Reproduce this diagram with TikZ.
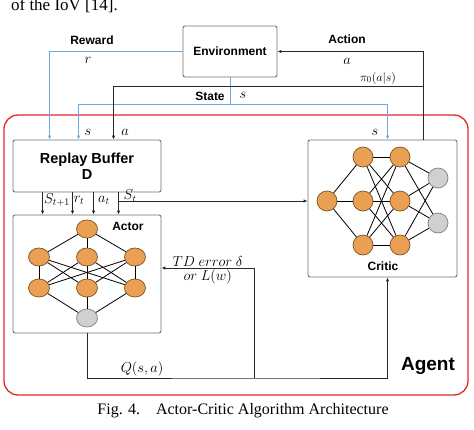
\documentclass[tikz,border=0pt]{standalone}
\usepackage{fontspec}
\setmainfont{Liberation Serif}
\setsansfont{Liberation Sans}
\usetikzlibrary{arrows.meta, shapes.geometric}

\definecolor{flowblue}{RGB}{111,168,220}
\definecolor{agentred}{RGB}{228,38,38}
\definecolor{neuron}{RGB}{234,160,82}
\definecolor{neuronrim}{RGB}{125,82,40}
\definecolor{outneuron}{RGB}{208,208,208}
\definecolor{boxgray}{RGB}{112,112,112}
\definecolor{wire}{RGB}{40,40,40}

\tikzset{
  box/.style={draw=boxgray, line width=0.9pt, rounded corners=2pt, fill=white},
  tag/.style={font=\sffamily\bfseries\fontsize{12}{14}\selectfont, inner sep=1pt},
  sym/.style={font=\fontsize{15}{17}\selectfont, inner sep=1pt},
  unit/.style={ellipse, draw=neuronrim, fill=neuron, line width=0.7pt, minimum width=21pt, minimum height=18pt, inner sep=0pt},
  outunit/.style={unit, draw=gray, fill=outneuron},
  cunit/.style={unit, circle, minimum size=20pt},
  coutunit/.style={outunit, circle, minimum size=20pt},
  link/.style={draw=black, line width=0.8pt},
  wireflow/.style={draw=wire, line width=0.9pt, -{Latex[length=4pt, width=3.5pt]}},
  blueflow/.style={draw=flowblue, line width=0.9pt, -{Latex[length=4pt, width=3.5pt]}},
}

\begin{document}
\begin{tikzpicture}[x = 1pt, y = -1pt]
  \clip (0, 0) rectangle (474, 429);
  \useasboundingbox (0, 0) rectangle (474, 429);

  % Page text
  \node[anchor=base east, font=\fontsize{17}{20}\selectfont, inner sep=0pt] (pagetext) at (118, 10) {of the IoV [14].};
  \node[font=\fontsize{16}{19}\selectfont] (caption) at (243, 411) {Fig. 4.\quad Actor-Critic Algorithm Architecture};

  % Agent frame
  \node[draw=agentred, line width=1.3pt, rounded corners=14pt, minimum width=464pt, minimum height=280pt] (agent) at (236, 255) {};
  \node[font=\sffamily\bfseries\fontsize{19}{22}\selectfont] (agenttag) at (428, 366) {Agent};

  % Boxes
  \node[box, minimum width=94pt, minimum height=51pt, font=\sffamily\bfseries\fontsize{12}{14}\selectfont] (env) at (230, 51.5) {Environment};
  \node[box, minimum width=148pt, minimum height=52pt, align=center, font=\sffamily\bfseries\fontsize{14.5}{16}\selectfont] (buffer) at (87, 166) {Replay Buffer\\D};
  \node[box, minimum width=148pt, minimum height=118pt] (actor) at (87, 274) {};
  \node[box, minimum width=149pt, minimum height=137pt] (critic) at (382.5, 208.5) {};
  \node[tag] (actortag) at (128, 226) {Actor};
  \node[tag] (critictag) at (383, 266) {Critic};

  % Actor network
  \node[unit] (a0) at (87, 229) {};
  \node[unit] (a11) at (39, 257) {};
  \node[unit] (a12) at (87, 257) {};
  \node[unit] (a13) at (135, 257) {};
  \node[unit] (a21) at (39, 288) {};
  \node[unit] (a22) at (87, 288) {};
  \node[unit] (a23) at (135, 288) {};
  \node[outunit] (a3) at (87, 318) {};
  \foreach \i in {1,2,3} {
    \draw[link] (a0) -- (a1\i);
    \draw[link] (a2\i) -- (a3);
    \foreach \j in {1,2,3}
      \draw[link] (a1\i) -- (a2\j);
  }

  % Critic network
  \node[cunit] (c0) at (327, 201) {};
  \node[cunit] (c11) at (363, 157) {};
  \node[cunit] (c12) at (363, 201) {};
  \node[cunit] (c13) at (363, 245) {};
  \node[cunit] (c21) at (400, 157) {};
  \node[cunit] (c22) at (400, 201) {};
  \node[cunit] (c23) at (400, 245) {};
  \node[coutunit] (c31) at (438, 178) {};
  \node[coutunit] (c32) at (438, 223) {};
  \foreach \i in {1,2,3} {
    \draw[link] (c0) -- (c1\i);
    \draw[link] (c2\i) -- (c31);
    \draw[link] (c2\i) -- (c32);
    \foreach \j in {1,2,3}
      \draw[link] (c1\i) -- (c2\j);
  }

  % Branch points
  \coordinate (statejoin) at (230, 104);
  \coordinate (actionjoin) at (423, 86);
  \coordinate (stjoin) at (119, 201);
  \coordinate (qjoin) at (254, 378);
  \coordinate (tdcorner) at (254, 268);

  % Edges
  \draw[blueflow] (env.west) -| ([xshift=37pt]buffer.north west);
  \draw[draw=flowblue, line width=0.9pt] (env.south) -- (statejoin);
  \draw[blueflow] (statejoin) -| ([xshift=66pt]buffer.north west);
  \draw[blueflow] (statejoin) -| ([xshift=80pt]critic.north west);
  \draw[wireflow] ([xshift=-34pt]critic.north east) |- (env.east);
  \draw[wireflow] (actionjoin) -| ([xshift=101pt]buffer.north west);
  \draw[wireflow] ([xshift=30pt]buffer.south west) -- ([xshift=30pt]actor.north west);
  \draw[wireflow] ([xshift=60pt]buffer.south west) -- ([xshift=60pt]actor.north west);
  \draw[wireflow] ([xshift=81pt]buffer.south west) -- ([xshift=81pt]actor.north west);
  \draw[wireflow] ([xshift=106pt]buffer.south west) -- ([xshift=106pt]actor.north west);
  \draw[wireflow] (stjoin) -- (stjoin -| critic.west);
  \draw[wireflow] (actor.south) |- (qjoin) -| ([xshift=80pt]critic.south west);
  \draw[wireflow] (qjoin) -- (tdcorner) -- node[sym, above] {$TD\ error\ \delta$} node[sym, below] {$or\ L(w)$} (tdcorner -| actor.east);

  % Labels
  \node[tag] (rewardtag) at (92, 40) {Reward};
  \node[sym] (rsym) at (88, 60) {$r$};
  \node[tag] (actiontag) at (347, 39) {Action};
  \node[sym] (asym) at (347, 61) {$a$};
  \node[sym, font=\fontsize{13}{15}\selectfont] (pisym) at (378, 78) {$\pi_0(a|s)$};
  \node[tag] (statetag) at (210, 96) {State};
  \node[sym] (ssym) at (243, 95) {$s$};
  \node[sym] (bufs) at (88, 132) {$s$};
  \node[sym] (bufa) at (125, 132) {$a$};
  \node[sym] (crits) at (375, 132) {$s$};
  \node[sym, font=\fontsize{14}{16}\selectfont] (snext) at (57, 200) {$S_{t+1}$};
  \node[sym, font=\fontsize{14}{16}\selectfont] (rt) at (79, 200) {$r_t$};
  \node[sym, font=\fontsize{14}{16}\selectfont] (at) at (104, 200) {$a_t$};
  \node[sym, font=\fontsize{14}{16}\selectfont] (st) at (130, 196) {$S_t$};
  \node[sym] (qsa) at (142, 369) {$Q(s,a)$};
\end{tikzpicture}
\end{document}
